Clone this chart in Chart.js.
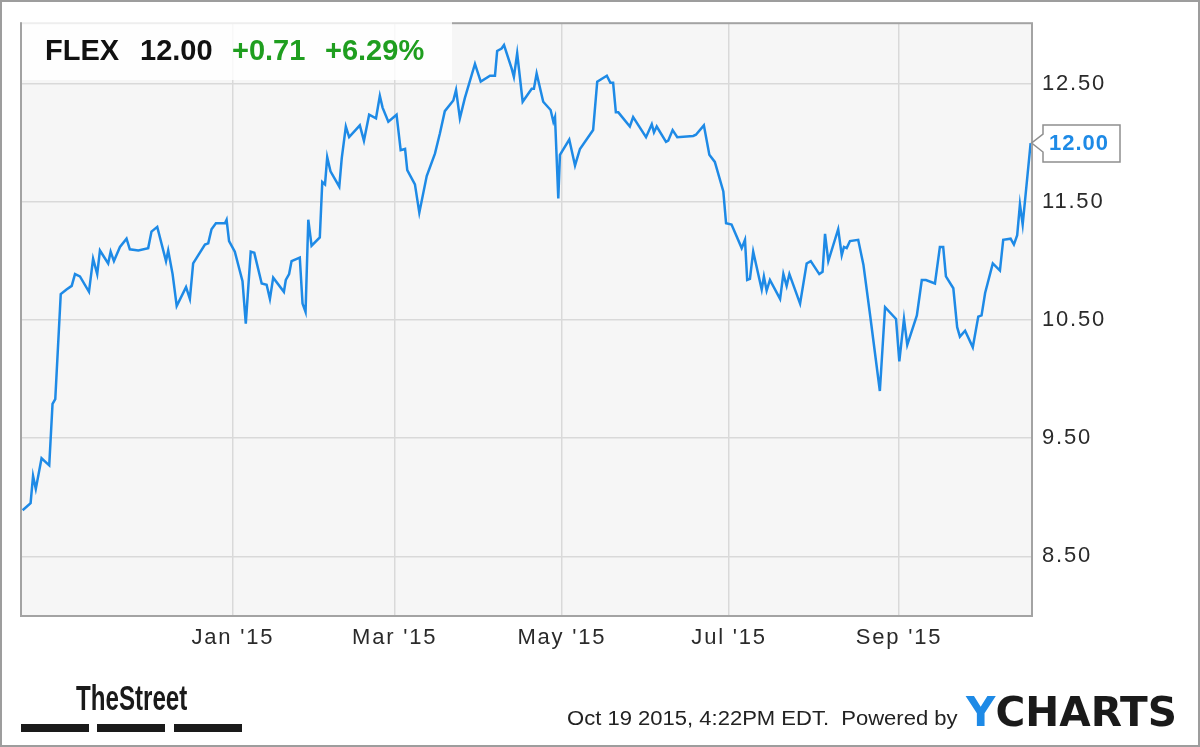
<!DOCTYPE html>
<html>
<head>
<meta charset="utf-8">
<script src="https://cdn.jsdelivr.net/npm/chart.js@4.4.1/dist/chart.umd.min.js"></script>
<style>
html, body { margin: 0; padding: 0; background: #fff; }
#wrap { position: relative; width: 1200px; height: 747px; overflow: hidden; font-family: "Liberation Sans", Arial, sans-serif; }
#chart { position: absolute; left: 0; top: 0; }
#frame { position: absolute; left: 0; top: 0; width: 1200px; height: 747px; box-sizing: border-box; border: 2px solid #9d9d9d; pointer-events: none; }
#quote { position: absolute; left: 22px; top: 22px; width: 430px; height: 58px; background: rgba(255,255,255,0.82); }
#quote span { position: absolute; top: 14px; font-weight: bold; font-size: 29px; line-height: 29px; white-space: nowrap; }
.blk { color: #111; }
.grn { color: #1f9e1f; }
#street { position: absolute; left: 76px; top: 680px; font-family: "Liberation Sans Narrow", "Liberation Sans", sans-serif; font-weight: bold; font-size: 35px; line-height: 35px; color: #1a1a1a; transform-origin: 0 0; white-space: nowrap; }
.bar { position: absolute; top: 724px; height: 8px; background: #1a1a1a; }
#stamp { position: absolute; left: 567px; top: 707px; font-size: 20px; line-height: 22px; color: #222; white-space: nowrap; transform-origin: 0 0; }
#ycharts { position: absolute; left: 966px; top: 692px; font-family: "DejaVu Sans", sans-serif; font-weight: bold; font-size: 41px; line-height: 41px; color: #1a1a1a; white-space: nowrap; transform-origin: 0 0; }
#ycharts b { color: #1e8ae6; }
</style>
</head>
<body>
<div id="wrap">
  <canvas id="chart" width="1200" height="747"></canvas>
  <div id="quote">
    <span class="blk" style="left:23px">FLEX</span>
    <span class="blk" style="left:118px">12.00</span>
    <span class="grn" style="left:210px">+0.71</span>
    <span class="grn" style="left:303px">+6.29%</span>
  </div>
  <div id="street">TheStreet</div>
  <div class="bar" style="left:21px;width:68px"></div>
  <div class="bar" style="left:97px;width:68px"></div>
  <div class="bar" style="left:174px;width:68px"></div>
  <div id="stamp">Oct 19 2015, 4:22PM EDT.&nbsp; Powered by</div>
  <div id="ycharts"><b>Y</b>CHARTS</div>
  <div id="frame"></div>
</div>
<script>
// x values are days counted from 1 Jan 2015
const dayOffsets = [
  -76.7, -73.8, -72.9, -71.9, -69.8, -67.0, -65.8, -64.8, -62.8, -60.7,
  -58.8, -57.6, -55.8, -52.5, -51.0, -49.5, -48.5, -45.5, -44.6, -43.4,
  -41.2, -38.8, -37.6, -34.5, -30.9, -29.7, -27.6, -24.4, -23.6, -22.0,
  -20.5, -17.1, -15.7, -14.5, -10.2, -9.0, -7.8, -6.2, -2.9, -2.3,
  -1.4, 0.7, 3.5, 4.7, 6.5, 7.8, 10.5, 12.3, 13.5, 14.7,
  18.6, 19.3, 20.5, 21.4, 24.4, 25.4, 26.5, 27.5, 28.7, 31.7,
  32.6, 33.6, 34.4, 35.6, 38.8, 39.7, 41.2, 42.4, 46.3, 47.8,
  49.7, 52.2, 53.6, 54.6, 56.7, 59.7, 61.2, 62.8, 63.6, 66.4,
  68.0, 70.7, 73.7, 75.5, 77.3, 80.4, 81.4, 82.8, 84.6, 88.3,
  90.4, 93.8, 95.6, 96.4, 98.0, 98.9, 101.7, 102.5, 103.7, 105.7,
  109.0, 109.8, 110.8, 113.2, 115.9, 116.9, 117.5, 118.7, 119.3, 122.7,
  124.8, 126.6, 131.4, 132.9, 136.4, 137.7, 138.7, 139.7, 140.6, 144.8,
  146.0, 150.7, 152.8, 153.6, 154.6, 158.0, 158.8, 160.4, 162.1, 167.9,
  168.9, 171.8, 173.8, 175.8, 178.9, 179.9, 181.9, 185.6, 186.8, 187.6,
  188.6, 189.8, 192.9, 193.7, 194.7, 195.9, 199.6, 200.8, 202.0, 203.0,
  206.9, 209.3, 210.8, 213.9, 215.1, 216.0, 217.2, 220.8, 222.1, 222.9,
  223.9, 225.1, 228.1, 230.0, 232.4, 236.0, 237.9, 241.9, 243.1, 244.8,
  246.0, 249.5, 251.3, 252.8, 256.1, 257.9, 259.1, 260.1, 262.8, 264.2,
  265.2, 267.1, 269.9, 271.9, 273.1, 274.4, 277.2, 279.8, 281.0, 283.7,
  284.9, 286.1, 287.1, 288.1, 291.0
];
const prices = [
  8.89, 8.95, 9.18, 9.07, 9.33, 9.27, 9.79, 9.83, 10.72, 10.76,
  10.79, 10.89, 10.87, 10.74, 11.02, 10.89, 11.09, 10.98, 11.08, 11.00,
  11.12, 11.19, 11.10, 11.09, 11.11, 11.25, 11.29, 11.00, 11.09, 10.89,
  10.62, 10.78, 10.68, 10.98, 11.14, 11.15, 11.27, 11.32, 11.32, 11.35,
  11.17, 11.08, 10.83, 10.47, 11.08, 11.07, 10.81, 10.80, 10.68, 10.86,
  10.74, 10.84, 10.89, 11.00, 11.03, 10.64, 10.57, 11.35, 11.13, 11.20,
  11.67, 11.65, 11.88, 11.76, 11.63, 11.87, 12.14, 12.05, 12.15, 12.02,
  12.24, 12.21, 12.40, 12.30, 12.18, 12.24, 11.94, 11.95, 11.77, 11.65,
  11.41, 11.72, 11.91, 12.08, 12.27, 12.36, 12.45, 12.21, 12.38, 12.67,
  12.52, 12.57, 12.57, 12.78, 12.80, 12.83, 12.63, 12.56, 12.76, 12.35,
  12.46, 12.46, 12.59, 12.35, 12.28, 12.18, 12.22, 11.53, 11.90, 12.03,
  11.81, 11.95, 12.11, 12.52, 12.57, 12.51, 12.51, 12.26, 12.26, 12.14,
  12.22, 12.05, 12.16, 12.09, 12.14, 12.01, 12.02, 12.11, 12.05, 12.06,
  12.07, 12.15, 11.90, 11.84, 11.59, 11.32, 11.31, 11.11, 11.18, 10.84,
  10.85, 11.08, 10.76, 10.87, 10.75, 10.84, 10.68, 10.89, 10.79, 10.89,
  10.64, 10.98, 11.00, 10.89, 10.91, 11.23, 11.00, 11.27, 11.05, 11.12,
  11.11, 11.17, 11.18, 10.97, 10.55, 9.90, 10.61, 10.51, 10.15, 10.51,
  10.29, 10.54, 10.84, 10.84, 10.81, 11.12, 11.12, 10.87, 10.77, 10.44,
  10.36, 10.41, 10.27, 10.53, 10.54, 10.73, 10.98, 10.92, 11.18, 11.19,
  11.14, 11.22, 11.48, 11.31, 12.00
];
const monthTicks = [0, 59, 120, 181, 243];
const monthLabels = ["Jan '15", "Mar '15", "May '15", "Jul '15", "Sep '15"];
const priceTicks = [8.5, 9.5, 10.5, 11.5, 12.5];

const points = dayOffsets.map((d, i) => ({ x: d, y: prices[i] }));

// the axis labels in the original are a bit spread out
const spacing = {
  id: 'spacing',
  beforeUpdate(chart) { chart.ctx.letterSpacing = '1.8px'; },
  beforeDraw(chart) { chart.ctx.letterSpacing = '1.8px'; }
};

// grey plot background + border around the plot area
const plotBox = {
  id: 'plotBox',
  beforeDraw(chart) {
    const a = chart.chartArea, ctx = chart.ctx;
    ctx.save();
    ctx.fillStyle = '#f6f6f6';
    ctx.fillRect(a.left, a.top, a.right - a.left, a.bottom - a.top);
    ctx.restore();
  },
  afterDraw(chart) {
    const a = chart.chartArea, ctx = chart.ctx;
    ctx.save();
    ctx.strokeStyle = '#a3a3a3';
    ctx.lineWidth = 2;
    ctx.strokeRect(a.left, a.top, a.right - a.left, a.bottom - a.top);
    ctx.restore();
  }
};

// last price tag on the right axis
const lastTag = {
  id: 'lastTag',
  afterDraw(chart) {
    const ctx = chart.ctx;
    const n = prices.length - 1;
    const px = chart.scales.x.getPixelForValue(dayOffsets[n]);
    const py = chart.scales.y.getPixelForValue(prices[n]);
    const bx = chart.chartArea.right + 11, bw = 77, bh = 37, by = py - 18;
    ctx.save();
    ctx.beginPath();
    ctx.moveTo(bx, by);
    ctx.lineTo(bx + bw, by);
    ctx.lineTo(bx + bw, by + bh);
    ctx.lineTo(bx, by + bh);
    ctx.lineTo(bx, py + 9);
    ctx.lineTo(px + 1, py);
    ctx.lineTo(bx, py - 9);
    ctx.closePath();
    ctx.fillStyle = '#fff';
    ctx.fill();
    ctx.strokeStyle = '#8f8f8f';
    ctx.lineWidth = 1.5;
    ctx.stroke();
    ctx.fillStyle = '#1e8ae6';
    ctx.font = 'bold 22px "Liberation Sans", Arial, sans-serif';
    ctx.letterSpacing = '1px';
    ctx.textBaseline = 'middle';
    ctx.fillText(prices[n].toFixed(2), bx + 6, py + 1);
    ctx.restore();
  }
};

new Chart(document.getElementById('chart'), {
  type: 'line',
  data: {
    datasets: [{
      data: points,
      borderColor: '#1e8ae6',
      borderWidth: 2.5,
      pointRadius: 0,
      tension: 0,
      fill: false
    }]
  },
  options: {
    responsive: false,
    animation: false,
    layout: { padding: { left: 21, top: 21, right: 0, bottom: 0 } },
    plugins: { legend: { display: false }, tooltip: { enabled: false } },
    scales: {
      x: {
        type: 'linear',
        min: -77.3,
        max: 291.5,
        afterBuildTicks(scale) { scale.ticks = monthTicks.map(v => ({ value: v })); },
        afterFit(scale) { scale.height = 131; },
        grid: { color: '#d9d9d9', lineWidth: 1.5, drawTicks: false },
        border: { display: false },
        ticks: {
          autoSkip: false,
          maxRotation: 0,
          padding: 9,
          color: '#2a2a2a',
          font: { family: '"Liberation Sans", Arial, sans-serif', size: 22 },
          callback: v => monthLabels[monthTicks.indexOf(v)]
        }
      },
      y: {
        position: 'right',
        min: 7.994,
        max: 13.015,
        afterBuildTicks(scale) { scale.ticks = priceTicks.map(v => ({ value: v })); },
        afterFit(scale) { scale.width = 168; },
        grid: { color: '#d9d9d9', lineWidth: 1.5, drawTicks: false },
        border: { display: false },
        ticks: {
          padding: 10,
          color: '#2a2a2a',
          font: { family: '"Liberation Sans", Arial, sans-serif', size: 22 },
          callback: v => v.toFixed(2)
        }
      }
    }
  },
  plugins: [spacing, plotBox, lastTag]
});

// squeeze the logo texts to their measured widths
function fitWidth(id, w) {
  const el = document.getElementById(id);
  el.style.transform = 'scaleX(' + (w / el.offsetWidth) + ')';
}
fitWidth('street', 111);
fitWidth('stamp', 391);
fitWidth('ycharts', 211);
</script>
</body>
</html>
